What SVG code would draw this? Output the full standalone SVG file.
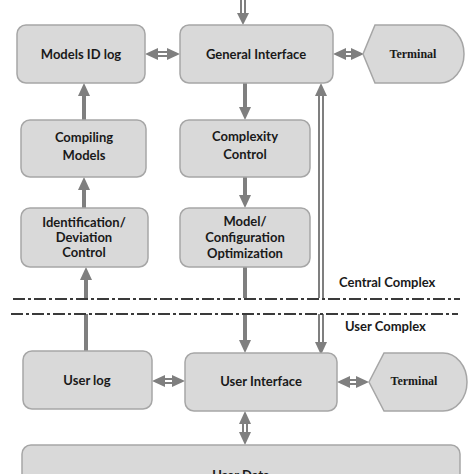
<svg xmlns="http://www.w3.org/2000/svg" width="474" height="474" viewBox="0 0 474 474">
<style>
.box{fill:#d9d9d9;stroke:#a6a6a6;stroke-width:1.5}
.t{font-family:Lato,"Open Sans",sans-serif;font-weight:bold;font-size:13px;fill:#1a1a1a;text-anchor:middle}
.term{font-family:"Liberation Serif",serif;font-weight:bold;font-size:12px;fill:#1a1a1a;text-anchor:middle}
.lbl{font-family:Lato,"Open Sans",sans-serif;font-weight:bold;font-size:13px;fill:#1a1a1a}
.ar{stroke:#7f7f7f;stroke-width:4;fill:none}
.dbl{stroke:#7f7f7f;stroke-width:6;fill:none}
.dbli{stroke:#fff;stroke-width:2;fill:none}
.hd{fill:#7f7f7f}
.dd{stroke:#3a3a3a;stroke-width:1.8;stroke-dasharray:12 3 3 3;fill:none}
</style>
<rect width="474" height="474" fill="#fff"/>
<g id="connectors">
  <!-- top entry -->
  <line class="dbl" x1="243" y1="0" x2="243" y2="15"/><line class="dbli" x1="243" y1="0" x2="243" y2="15"/>
  <polygon class="hd" points="237,13 249,13 243,25"/>
  <!-- Models ID log <-> General Interface -->
  <line class="dbl" x1="156" y1="54" x2="169" y2="54"/><line class="dbli" x1="156" y1="54" x2="169" y2="54"/>
  <polygon class="hd" points="145,54 158,48 158,60"/>
  <polygon class="hd" points="180,54 167,48 167,60"/>
  <!-- General Interface <-> Terminal -->
  <line class="dbl" x1="344" y1="54" x2="352" y2="54"/><line class="dbli" x1="344" y1="54" x2="352" y2="54"/>
  <polygon class="hd" points="333,54 346,48 346,60"/>
  <polygon class="hd" points="364,54 351,48 351,60"/>
  <!-- Compiling -> Models ID log -->
  <line class="ar" x1="84" y1="120" x2="84" y2="94"/>
  <polygon class="hd" points="78,96 90,96 84,83"/>
  <!-- Identification -> Compiling -->
  <line class="ar" x1="84" y1="208" x2="84" y2="188"/>
  <polygon class="hd" points="78,190 90,190 84,177"/>
  <!-- User log -> Identification -->
  <line class="ar" x1="86" y1="351" x2="86" y2="314"/>
  <line class="ar" x1="86" y1="298" x2="86" y2="278"/>
  <polygon class="hd" points="80,280 92,280 86,267"/>
  <!-- General -> Complexity -->
  <line class="ar" x1="245" y1="83" x2="245" y2="109"/>
  <polygon class="hd" points="239,107 251,107 245,120"/>
  <!-- Complexity -> Model -->
  <line class="ar" x1="245" y1="177" x2="245" y2="197"/>
  <polygon class="hd" points="239,195 251,195 245,208"/>
  <!-- Model -> User Interface -->
  <line class="ar" x1="245" y1="267" x2="245" y2="298"/>
  <line class="ar" x1="245" y1="314" x2="245" y2="342"/>
  <polygon class="hd" points="239,340 251,340 245,353"/>
  <!-- User Interface <-> General Interface (double) -->
  <line class="dbl" x1="321" y1="94" x2="321" y2="298"/><line class="dbli" x1="321" y1="94" x2="321" y2="298"/>
  <polygon class="hd" points="315,96 327,96 321,83"/>
  <line class="dbl" x1="321" y1="314" x2="321" y2="344"/><line class="dbli" x1="321" y1="314" x2="321" y2="344"/>
  <polygon class="hd" points="315,342 327,342 321,355"/>
  <!-- User log <-> User Interface -->
  <line class="dbl" x1="163" y1="381" x2="174" y2="381"/><line class="dbli" x1="163" y1="381" x2="174" y2="381"/>
  <polygon class="hd" points="152,381 165,375 165,387"/>
  <polygon class="hd" points="185,381 172,375 172,387"/>
  <!-- User Interface <-> Terminal -->
  <line class="dbl" x1="348" y1="382" x2="358" y2="382"/><line class="dbli" x1="348" y1="382" x2="358" y2="382"/>
  <polygon class="hd" points="337,382 350,376 350,388"/>
  <polygon class="hd" points="369,382 356,376 356,388"/>
  <!-- User Interface <-> User Data -->
  <line class="dbl" x1="245" y1="422" x2="245" y2="434"/><line class="dbli" x1="245" y1="422" x2="245" y2="434"/>
  <polygon class="hd" points="239,424 251,424 245,411"/>
  <polygon class="hd" points="239,432 251,432 245,445"/>
</g>
<g id="boundaries">
  <line class="dd" x1="13" y1="299" x2="460" y2="299"/>
  <line class="dd" x1="11" y1="314" x2="458" y2="314"/>
  <text class="lbl" x="339" y="287">Central Complex</text>
  <text class="lbl" x="345" y="331">User Complex</text>
</g>
<g id="models-id-log"><rect class="box" x="17" y="25" width="128" height="58" rx="9"/><text class="t" x="81" y="59">Models ID log</text></g>
<g id="general-interface"><rect class="box" x="180" y="25" width="153" height="58" rx="9"/><text class="t" x="256" y="59">General Interface</text></g>
<g id="terminal-top"><path class="box" d="M363,54 L375,25 L440,25 A24,29 0 0 1 440,83 L375,83 Z"/><text class="term" x="413" y="58">Terminal</text></g>
<g id="compiling-models"><rect class="box" x="21" y="120" width="125" height="57" rx="9"/><text class="t" x="84" y="142">Compiling</text><text class="t" x="84" y="160">Models</text></g>
<g id="complexity-control"><rect class="box" x="180" y="120" width="130" height="57" rx="9"/><text class="t" x="245" y="141">Complexity</text><text class="t" x="245" y="159">Control</text></g>
<g id="identification"><rect class="box" x="21" y="208" width="127" height="59" rx="9"/><text class="t" x="84" y="227">Identification/</text><text class="t" x="84" y="242">Deviation</text><text class="t" x="84" y="257">Control</text></g>
<g id="model-config"><rect class="box" x="180" y="208" width="130" height="59" rx="9"/><text class="t" x="245" y="226">Model/</text><text class="t" x="245" y="242">Configuration</text><text class="t" x="245" y="258">Optimization</text></g>
<g id="user-log"><rect class="box" x="23" y="351" width="129" height="58" rx="9"/><text class="t" x="87" y="385">User log</text></g>
<g id="user-interface"><rect class="box" x="185" y="353" width="152" height="58" rx="9"/><text class="t" x="261" y="386">User Interface</text></g>
<g id="terminal-bottom"><path class="box" d="M369,382 L384,353 L443,353 A24,29 0 0 1 443,411 L384,411 Z"/><text class="term" x="414" y="385">Terminal</text></g>
<g id="user-data"><rect class="box" x="22" y="445" width="438" height="60" rx="9"/><text class="t" x="241" y="480">User Data</text></g>
</svg>
